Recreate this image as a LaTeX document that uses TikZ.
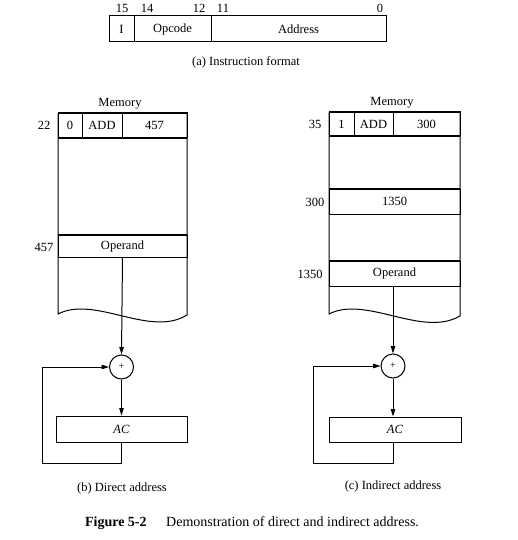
\documentclass[tikz,border=0pt]{standalone}
\usepackage{fontspec}
\setmainfont{Liberation Serif}
\usetikzlibrary{arrows.meta}
\begin{document}
\begin{tikzpicture}[x=1pt,y=-1pt,
  lbl/.style={font=\fontsize{12.5}{14}\selectfont, inner sep=0pt},
  ln/.style={line width=1pt},
  thk/.style={line width=1.7pt},
  cell/.style={draw, ln, rectangle, inner sep=0pt, font=\fontsize{12.5}{14}\selectfont},
  arr/.style={-{Triangle[length=7.5pt,width=4.5pt]}, line width=1pt},
  sum/.style={draw, ln, circle, minimum size=24pt, inner sep=0pt, font=\fontsize{10}{11}\selectfont}]
\useasboundingbox (0,0) rectangle (517,540);
% ---------- (a) instruction format
\node[cell, minimum width=25pt, minimum height=26pt] (fI) at (121.5,29) {I};
\node[cell, minimum width=77pt, minimum height=26pt] (fOp) at (172.5,29) {Opcode};
\node[cell, minimum width=175pt, minimum height=26pt] (fAd) at (298.5,29) {Address};
\node[lbl] (b15) at (122,8) {15};
\node[lbl] (b14) at (147,8) {14};
\node[lbl] (b12) at (199,8) {12};
\node[lbl] (b11) at (223,8) {11};
\node[lbl] (b0) at (380,8) {0};
\node[lbl] (capa) at (246,62) {(a) Instruction format};
% ---------- (b) direct
\node[lbl] (memL) at (120,104) {Memory};
\node[lbl] (a22) at (44,125) {22};
\node[lbl] (a457) at (44,247) {457};
\node[cell, minimum width=24pt, minimum height=25pt] (L0) at (70,125.5) {0};
\node[cell, minimum width=40pt, minimum height=25pt] (Ladd) at (102,125.5) {ADD};
\node[cell, minimum width=65pt, minimum height=25pt] (L457) at (154.5,125.5) {457};
\node[cell, minimum width=129pt, minimum height=22pt] (Lop) at (122.5,246) {Operand};
\draw[thk] (58,113) -- (187,113);
\draw[thk] (58,138) -- (187,138);
\draw[thk] (58,235) -- (187,235);
\draw[ln] (58,113) -- (58,314) .. controls (95,295) and (150,338) .. (187,315) -- (187,113);
\node[sum] (sumL) at (121.5,367) {+};
\node[cell, minimum width=131pt, minimum height=26pt] (acL) at (121.5,429) {\textit{AC}};
\draw[arr] (Lop.south) -- (sumL.north);
\draw[arr] (sumL.south) -- (acL.north);
\draw[arr] (acL.south) -- (121.5,463) -- (42,463) -- (42,367) -- (sumL.west);
\node[lbl] (capb) at (122,488) {(b) Direct address};
% ---------- (c) indirect
\node[lbl] (memR) at (392,103) {Memory};
\node[lbl] (a35) at (315,124) {35};
\node[lbl] (a300) at (315,202) {300};
\node[lbl] (a1350) at (310,274) {1350};
\node[cell, minimum width=25pt, minimum height=24pt] (R1) at (341.5,124) {1};
\node[cell, minimum width=39pt, minimum height=24pt] (Radd) at (373.5,124) {ADD};
\node[cell, minimum width=67pt, minimum height=24pt] (R300) at (426.5,124) {300};
\node[cell, minimum width=131pt, minimum height=25pt] (R1350) at (394.5,201.5) {1350};
\node[cell, minimum width=131pt, minimum height=25pt] (Rop) at (394.5,273.5) {Operand};
\draw[thk] (329,112) -- (460,112);
\draw[thk] (329,136) -- (460,136);
\draw[thk] (329,189) -- (460,189);
\draw[thk] (329,261) -- (460,261);
\draw[ln] (329,112) -- (329,314) .. controls (366,295) and (422,338) .. (460,316) -- (460,112);
\node[sum] (sumR) at (393,366) {+};
\node[cell, minimum width=132pt, minimum height=25pt] (acR) at (395,429.5) {\textit{AC}};
\draw[arr] (sumR.north |- Rop.south) -- (sumR.north);
\draw[arr] (sumR.south) -- (sumR.south |- acR.north);
\draw[arr] (sumR.south |- acR.south) -- (393,463) -- (313,463) -- (313,366) -- (sumR.west);
\node[lbl] (capc) at (393,486) {(c) Indirect address};
% ---------- figure caption
\node[inner sep=0pt, font=\fontsize{14}{16}\selectfont] (fig) at (252,523) {\textbf{Figure 5-2}\hspace{1.4em}Demonstration of direct and indirect address.};
\end{tikzpicture}
\end{document}
